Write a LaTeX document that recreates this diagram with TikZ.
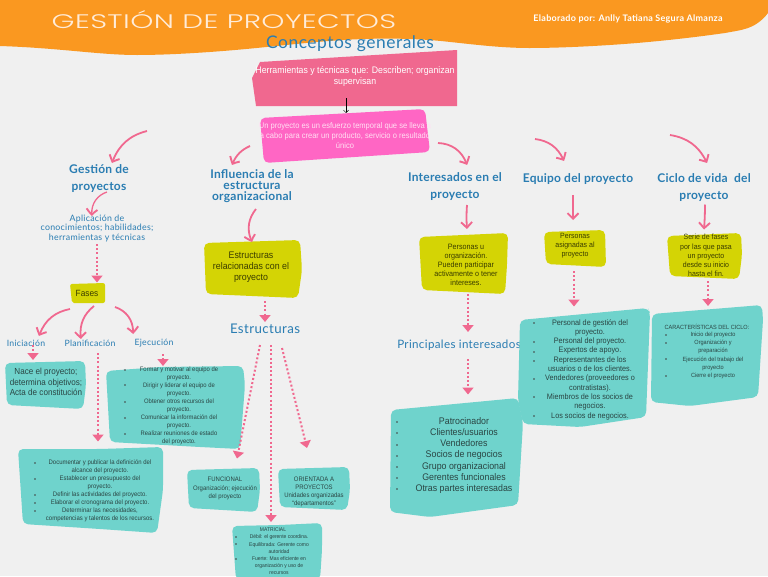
\documentclass[tikz,border=0pt]{standalone}
\usepackage{fontspec}
\setmainfont{Liberation Sans}[FakeStretch=0.92]
\newfontfamily\headf{Lato}[LetterSpace=2]
\newfontfamily\headlf{Lato}[LetterSpace=3]
\newfontfamily\titlef{Poppins Light}[LetterSpace=2,FakeStretch=1.5]
\usetikzlibrary{arrows.meta,calc,bending}
\definecolor{bgc}{HTML}{F0F0F0}
\definecolor{orangeh}{HTML}{FA9820}
\definecolor{pinkb}{HTML}{F0688F}
\definecolor{magb}{HTML}{FF66C4}
\definecolor{tealb}{HTML}{6FD3CC}
\definecolor{yelb}{HTML}{D4D405}
\definecolor{headc}{HTML}{2A7DB2}
\definecolor{txtc}{HTML}{2A4543}
\definecolor{ytxt}{HTML}{3A3D00}
\newcommand{\fs}[2]{\fontsize{#1}{#2}\selectfont}
\tikzset{
  x=1pt,y=-1pt,
  txt/.style={inner sep=0pt,align=center,anchor=center},
  head/.style={txt,text=headc},
  bodyt/.style={txt,text=txtc},
  yellowt/.style={txt,text=ytxt},
  blob/.style={rounded corners=5pt},
  curvearrow/.style={draw=pinkb,line width=1.8pt,-{Straight Barb[length=5.5pt,width=11pt,line width=1.9pt,bend]}},
  dotarrow/.style={draw=pinkb,line width=2pt,dash pattern=on 2pt off 2.2pt,-{Triangle[length=7pt,width=11pt,sep=0pt]}},
}
\newcommand{\bul}[2]{\fill[black!75] (#1,#2) circle (0.9);}
\begin{document}
\begin{tikzpicture}
\useasboundingbox (0,0) rectangle (768,576);
\fill[bgc] (0,0) rectangle (768,576);
% header
\fill[orangeh] (0,0) -- (768,0) -- (768,13)
  .. controls (755,30) and (740,30) .. (725,33)
  .. controls (690,38) and (660,41) .. (637,43)
  .. controls (600,46) and (560,48) .. (529,48)
  .. controls (500,48) and (470,44) .. (441,41)
  .. controls (410,38) and (375,38) .. (343,40)
  .. controls (310,42) and (270,47) .. (235,50)
  .. controls (200,53) and (165,55) .. (137,55)
  .. controls (100,55) and (60,48) .. (0,46) -- cycle;
\node[txt,text=white!85!orange,font=\titlef\fs{19.6}{20}] (title) at (224,19.5) {GESTIÓN DE PROYECTOS};
\node[txt,text=white,font=\headlf\bfseries\fs{9}{10}] (author) at (628,19) {Elaborado por: Anlly Tatiana Segura Almanza};
\node[head,font=\headlf\fs{17.4}{18}] (concept) at (350,44) {Conceptos generales};
% top boxes
\fill[pinkb] (260,62) -- (457,50) -- (457,106) -- (256,106) -- (252,78) -- cycle;
\node[txt,text=white,font=\fs{9.5}{11}] (herr) at (355,76.5) {Herramientas y técnicas que: Describen; organizan\\supervisan};
\fill[magb,blob] (260,118) -- (425,109) -- (430,152) -- (264,163) -- cycle;
\node[txt,text=white!80!magb,font=\fs{8.2}{9.6}] (proy) at (345,135.5) {Un proyecto es un esfuerzo temporal que se lleva a\\a cabo para crear un producto, servicio o resultado\\único};
\draw[black,line width=0.5pt,-{Straight Barb[length=2.5pt,width=5pt]}] ([shift={(-9,21.5)}]herr.center) -- ([shift={(1,-22.5)}]proy.center);
% column headings
\node[head,font=\headf\bfseries\fs{12}{17}] (gest) at (99,179) {Gestión de\\proyectos};
\node[head,font=\headf\bfseries\fs{12}{11.3}] (infl) at (252,186) {Influencia de la\\estructura\\organizacional};
\node[head,font=\headf\bfseries\fs{12}{16.5}] (inter) at (455,186.5) {Interesados en el\\proyecto};
\node[head,font=\headf\bfseries\fs{12}{15}] (equi) at (578,179.5) {Equipo del proyecto};
\node[head,font=\headf\bfseries\fs{12}{17}] (cicl) at (704,187.5) {Ciclo de vida\ \ del\\proyecto};
\draw[curvearrow] ([shift={(-198,-4.5)}]proy.center) to[bend right=28] ([shift={(13,-16)}]gest.center);
\draw[curvearrow] ([shift={(-95,10.5)}]proy.center) to[bend right=22] ([shift={(-20,-21)}]infl.center);
\draw[curvearrow] ([shift={(93,7.5)}]proy.center) to[bend left=35] ([shift={(12,-21.5)}]inter.center);
\draw[curvearrow] ([shift={(190,3.5)}]proy.center) to[bend left=30] ([shift={(-14,-18.5)}]equi.center);
\draw[curvearrow] ([shift={(325,-0.5)}]proy.center) to[bend left=28] ([shift={(3,-24.5)}]cicl.center);
% Gestion branch
\node[head,font=\headlf\fs{8.8}{9.2}] (apli) at (97,228.5) {Aplicación de\\conocimientos; habilidades;\\herramientas y técnicas};
\draw[curvearrow,line width=1.3pt] ([shift={(8,13)}]gest.center) to[bend right=40] ([shift={(-5,-12.5)}]apli.center);
\fill[yelb,rounded corners=2pt] (70,284) -- (105,283) -- (105,303) -- (72,303) -- cycle;
\node[yellowt,font=\fs{9}{11}] (fases) at (87,293.5) {Fases};
\draw[dotarrow] ([shift={(0,15.5)}]apli.center) -- ([shift={(10,-11)}]fases.center);
\node[head,font=\headlf\fs{8.7}{10}] (ini) at (26,343.5) {Iniciación};
\node[head,font=\headlf\fs{8.7}{10}] (plan) at (90,343.5) {Planificación};
\node[head,font=\headlf\fs{8.7}{10}] (eje) at (154,343.5) {Ejecución};
\draw[curvearrow] ([shift={(-17,15.5)}]fases.center) to[bend right=30] ([shift={(13,-7.5)}]ini.center);
\draw[curvearrow] ([shift={(7,12.5)}]fases.center) to[bend right=30] ([shift={(-9,-4.5)}]plan.center);
\draw[curvearrow] ([shift={(28,13.5)}]fases.center) to[bend left=38] ([shift={(-21,-9.5)}]eje.center);
% Influencia branch
\fill[yelb,blob] (204,243) -- (300,240) -- (302,270) -- (298,298) -- (206,294) -- cycle;
\node[yellowt,font=\fs{9.6}{11}] (estr) at (251,267) {Estructuras\\relacionadas con el\\proyecto};
\draw[curvearrow] ([shift={(4,23)}]infl.center) to[bend right=32] ([shift={(1,-25)}]estr.center);
\node[head,font=\headlf\fs{13.3}{15}] (estc) at (265,329) {Estructuras};
\draw[dotarrow] ([shift={(14,34)}]estr.center) -- ([shift={(0,-7)}]estc.center);
% Iniciacion box
\fill[tealb,blob] (5,363) -- (85,361) -- (86,385) -- (83,409) -- (7,405) -- cycle;
\node[bodyt,font=\fs{8.8}{10.6}] (nace) at (46,382) {Nace el proyecto;\\determina objetivos;\\Acta de constitución};
\draw[dotarrow] ([shift={(7,1.5)}]ini.center) -- ([shift={(-13,-22)}]nace.center);
% Ejecucion box
\fill[tealb,blob] (106,371) -- (160,367) -- (243,366) -- (245,385) -- (240,449) -- (200,447) -- (110,442) -- cycle;
\node[bodyt,font=\fs{6.4}{7.95}] (ejeb) at (179,406) {Formar y motivar al equipo de\\proyecto.\\Dirigir y liderar el equipo de\\proyecto.\\Obtener otros recursos del\\proyecto.\\Comunicar la información del\\proyecto.\\Realizar reuniones de estado\\del proyecto.};
\foreach \y in {370,385,402,418,434}{\bul{125}{\y}}
\draw[dotarrow] ([shift={(9,10.5)}]eje.center) -- ([shift={(-16,-40)}]ejeb.center);
% Planificacion box
\fill[tealb,blob] (18,449) -- (100,449) -- (163,447) -- (163,490) -- (157,533) -- (100,529) -- (23,524) -- cycle;
\node[bodyt,font=\fs{6.5}{8.05}] (planb) at (100,490.5) {Documentar y publicar la definición del\\alcance del proyecto.\\Establecer un presupuesto del\\proyecto.\\Definir las actividades del proyecto.\\Elaborar el cronograma del proyecto.\\Determinar las necesidades,\\competencias y talentos de los recursos.};
\foreach \y in {463,479,495,503,511}{\bul{35}{\y}}
\draw[dotarrow] ([shift={(8,9.5)}]plan.center) -- ([shift={(-2,-49)}]planb.center);
% structure boxes
\fill[tealb,blob] (187,470) -- (259,468) -- (260,490) -- (257,512) -- (189,508) -- cycle;
\node[bodyt,font=\fs{6.5}{8.3}] (func) at (225,488.5) {FUNCIONAL\\Organización; ejecución\\del proyecto};
\fill[tealb,blob] (278,469) -- (349,467) -- (350,490) -- (347,510) -- (280,507) -- cycle;
\node[bodyt,font=\fs{6.5}{8}] (orie) at (314,492) {ORIENTADA A\\PROYECTOS\\Unidades organizadas\\“departamentos”};
\fill[tealb,blob] (232,526) -- (280,525) -- (322,523) -- (322,550) -- (320,580) -- (236,580) -- cycle;
\node[bodyt,font=\fs{5.4}{7.2}] (matt) at (273,530) {MATRICIAL};
\node[bodyt,font=\fs{5.4}{7.2}] (matr) at (279,555) {Débil: el gerente coordina.\\Equilibrada: Gerente como\\autoridad\\Fuerte: Mas eficiente en\\organización y uso de\\recursos};
\foreach \y in {537,544,559}{\bul{236}{\y}}
\draw[dotarrow] ([shift={(-5,16)}]estc.center) -- ([shift={(12,-30)}]func.center);
\draw[dotarrow] ([shift={(6,16)}]estc.center) -- ([shift={(-2,-8)}]matt.center);
\draw[dotarrow] ([shift={(17,19)}]estc.center) -- ([shift={(-7,-44)}]orie.center);
% Interesados branch
\fill[yelb,blob] (419,237) -- (508,233) -- (507,265) -- (505,294) -- (422,290) -- cycle;
\node[yellowt,font=\fs{7.8}{9}] (pers) at (466,265) {Personas u\\organización.\\Pueden participar\\activamente o tener\\intereses.};
\draw[curvearrow] ([shift={(12,18.5)}]inter.center) to[bend right=4] ([shift={(1,-36)}]pers.center);
\node[head,font=\headlf\fs{11.6}{14}] (prin) at (459,345) {Principales interesados};
\draw[dotarrow] ([shift={(2,29)}]pers.center) -- ([shift={(9,-13)}]prin.center);
\fill[tealb,blob] (391,410) -- (518,398) -- (523,423) -- (518,505) -- (430,517) -- (390,512) -- cycle;
\node[bodyt,font=\fs{9.6}{11.2}] (prib) at (464,455.5) {Patrocinador\\Clientes/usuarios\\Vendedores\\Socios de negocios\\Grupo organizacional\\Gerentes funcionales\\Otras partes interesadas};
\foreach \y in {422,433,445,456,467,478,489}{\bul{397}{\y}}
\draw[dotarrow] ([shift={(9,14)}]prin.center) -- ([shift={(4,-61)}]prib.center);
% Equipo branch
\fill[yelb,blob] (544,232) -- (605,230) -- (606,267) -- (546,264) -- cycle;
\node[yellowt,font=\fs{7.6}{9}] (asig) at (575,246) {Personas\\asignadas al\\proyecto};
\draw[curvearrow] ([shift={(-5,15.5)}]equi.center) -- ([shift={(-2,-26)}]asig.center);
\fill[tealb,blob] (520,320) -- (648,308) -- (650,313) -- (646,417) -- (580,427) -- (523,424) -- (518,400) -- cycle;
\node[bodyt,font=\fs{7.9}{9.3}] (equb) at (590,369.5) {Personal de gestión del\\proyecto.\\Personal del proyecto.\\Expertos de apoyo.\\Representantes de los\\usuarios o de los clientes.\\Vendedores (proveedores o\\contratistas).\\Miembros de los socios de\\negocios.\\Los socios de negocios.};
\foreach \y in {323,342,352,361,379,397,416}{\bul{534}{\y}}
\draw[dotarrow] ([shift={(-1,25)}]asig.center) -- ([shift={(-16,-63)}]equb.center);
% Ciclo branch
\fill[yelb,blob] (667,236) -- (741,233) -- (742,255) -- (739,279) -- (670,276) -- cycle;
\node[yellowt,font=\fs{7.6}{9.2}] (seri) at (706,255.5) {Serie de fases\\por las que pasa\\un proyecto\\desde su inicio\\hasta el fin.};
\draw[curvearrow] ([shift={(1,17)}]cicl.center) to[bend left=2] ([shift={(-2,-26)}]seri.center);
\fill[tealb,blob] (652,314) -- (762,305) -- (763,320) -- (758,397) -- (690,406) -- (651,402) -- cycle;
\node[bodyt,font=\fs{6.05}{8}] (cart) at (707,327) {CARACTERÍSTICAS DEL CICLO:};
\node[bodyt,font=\fs{6.05}{8.2}] (carl) at (713,355.5) {Inicio del proyecto\\Organización y\\preparación\\Ejecución del trabajo del\\proyecto\\Cierre el proyecto};
\foreach \y in {335,343,359,376}{\bul{666}{\y}}
\draw[dotarrow] ([shift={(2,25.5)}]seri.center) -- ([shift={(1,-21)}]cart.center);
\end{tikzpicture}
\end{document}
